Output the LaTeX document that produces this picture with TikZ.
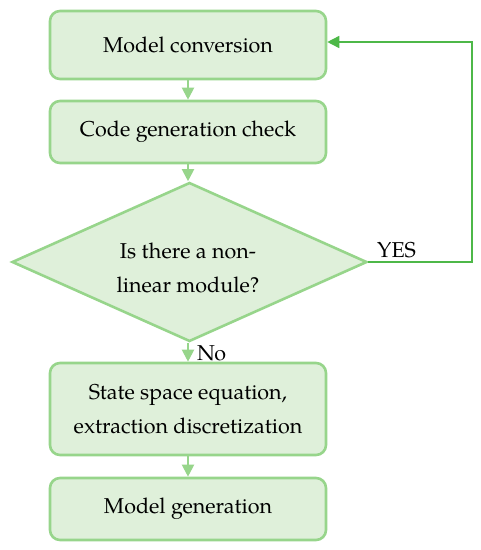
\documentclass[tikz,border=0pt]{standalone}
\usepackage{fontspec}
\setmainfont{TeX Gyre Pagella}
\usetikzlibrary{shapes.geometric,arrows.meta,calc}
\definecolor{boxfill}{HTML}{DFF0DA}
\definecolor{boxline}{HTML}{97D58B}
\definecolor{loopline}{HTML}{4DB848}
\begin{document}
\begin{tikzpicture}[x=1pt,y=-1pt,
  txt/.style={font=\fontsize{21.5}{34.5}\selectfont},
  stepbox/.style={txt,draw=boxline,fill=boxfill,line width=2.6pt,rounded corners=10pt,
    minimum width=276pt,inner sep=0pt,align=center},
  decision/.style={diamond,draw=boxline,fill=boxfill,line width=2.6pt,
    minimum width=355pt,minimum height=159pt,inner sep=0pt},
  flow/.style={draw=boxline,line width=2pt,-{Triangle[length=12pt,width=12pt]}},
  loop/.style={draw=loopline,line width=1.6pt,-{Triangle[length=12pt,width=12pt]}},
  lbl/.style={txt,inner sep=0pt}]
\useasboundingbox (0,0) rectangle (481,550);
\node[stepbox,minimum height=68pt] (m1) at (188,45) {Model conversion};
\node[stepbox,minimum height=62pt] (m2) at (188,132) {Code generation check};
\node[decision] (d) at (189.5,262) {};
\node[txt,align=center,inner sep=0pt] (dt) at (188,268) {Is there a non-\\linear module?};
\node[stepbox,minimum height=92pt] (m3) at (188,409) {State space equation,\\extraction discretization};
\node[stepbox,minimum height=62pt] (m4) at (188,509) {Model generation};
\coordinate (c1) at (472,262);
\coordinate (c2) at (472,42);
\draw[flow] (m1.south) -- (m1.south |- m2.north);
\draw[flow] (m2.south) -- (m2.south |- d.north);
\draw[flow] (d.south -| m3.north) -- (m3.north);
\draw[flow] (m3.south) -- (m4.north);
\draw[loop] (d.east) -- (c1) -- (c2) -- (m1.east |- c2);
\node[lbl,anchor=base west] (yes) at (377,257) {YES};
\node[lbl,anchor=base west] (no) at (197,360) {No};
\end{tikzpicture}
\end{document}
